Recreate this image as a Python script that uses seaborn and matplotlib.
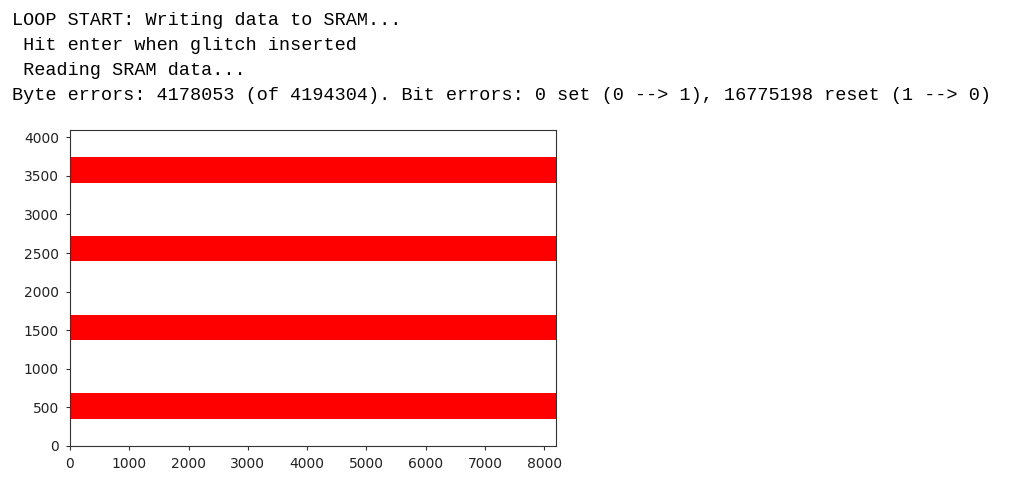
import pandas as pd
import matplotlib
matplotlib.use('Agg')
import matplotlib.pyplot as plt
import seaborn as sns

# ── data ──────────────────────────────────────────────────────────
LOG_LINES = [
    "LOOP START: Writing data to SRAM...",
    " Hit enter when glitch inserted",
    " Reading SRAM data...",
    "Byte errors: 4178053 (of 4194304). Bit errors: 0 set (0 --> 1), 16775198 reset (1 --> 0)",
]

# each band of reset bits: row range (lo..hi) spanning all columns
band_lo = [345, 1365, 2390, 3412]
band_hi = [682, 1700, 2722, 3742]
col_start = [0, 0, 0, 0]
col_end = [8192, 8192, 8192, 8192]

X_MAX = 8192
Y_MAX = 4096
x_ticks = list(range(0, 8001, 1000))
y_ticks = list(range(0, 4001, 500))

# long-form table: each band is the min..max spread at both ends of the x range
rows = []
for i in range(len(band_lo)):
    for xv in (col_start[i], col_end[i]):
        rows.append({'band': i, 'x': xv, 'y': band_lo[i]})
        rows.append({'band': i, 'x': xv, 'y': band_hi[i]})
df = pd.DataFrame(rows)

# ── figure ────────────────────────────────────────────────────────
sns.set_theme(style='ticks')
plt.rcParams['font.family'] = ['DejaVu Sans']

fig = plt.figure(figsize=(10.24, 4.98), dpi=100)

# notebook output text above the plot
baselines = [25, 50, 75, 100]
for line, yb in zip(LOG_LINES, baselines):
    fig.text(12 / 1024, 1 - yb / 498, line, family=['Liberation Mono', 'DejaVu Sans Mono'],
             fontsize=13.3, color='black', va='baseline', ha='left')

ax = fig.add_axes([70 / 1024, 1 - 445.7 / 498, 485.7 / 1024, 315.7 / 498])

sns.lineplot(data=df, x='x', y='y', hue='band', palette=['#ff0000'] * len(band_lo),
             estimator='mean', errorbar=('pi', 100),
             err_kws={'alpha': 1, 'linewidth': 0}, linewidth=0,
             legend=False, ax=ax)

ax.set_xlim(0, X_MAX)
ax.set_ylim(0, Y_MAX)
ax.set_xticks(x_ticks)
ax.set_yticks(y_ticks)
ax.set_xlabel('')
ax.set_ylabel('')
ax.tick_params(labelsize=10, length=3, width=0.8, pad=5,
               colors='#333333', labelcolor='#222222')
for s in ax.spines.values():
    s.set_color('#333333')
    s.set_linewidth(0.8)

fig.savefig('out.png', dpi=100, facecolor='white')
